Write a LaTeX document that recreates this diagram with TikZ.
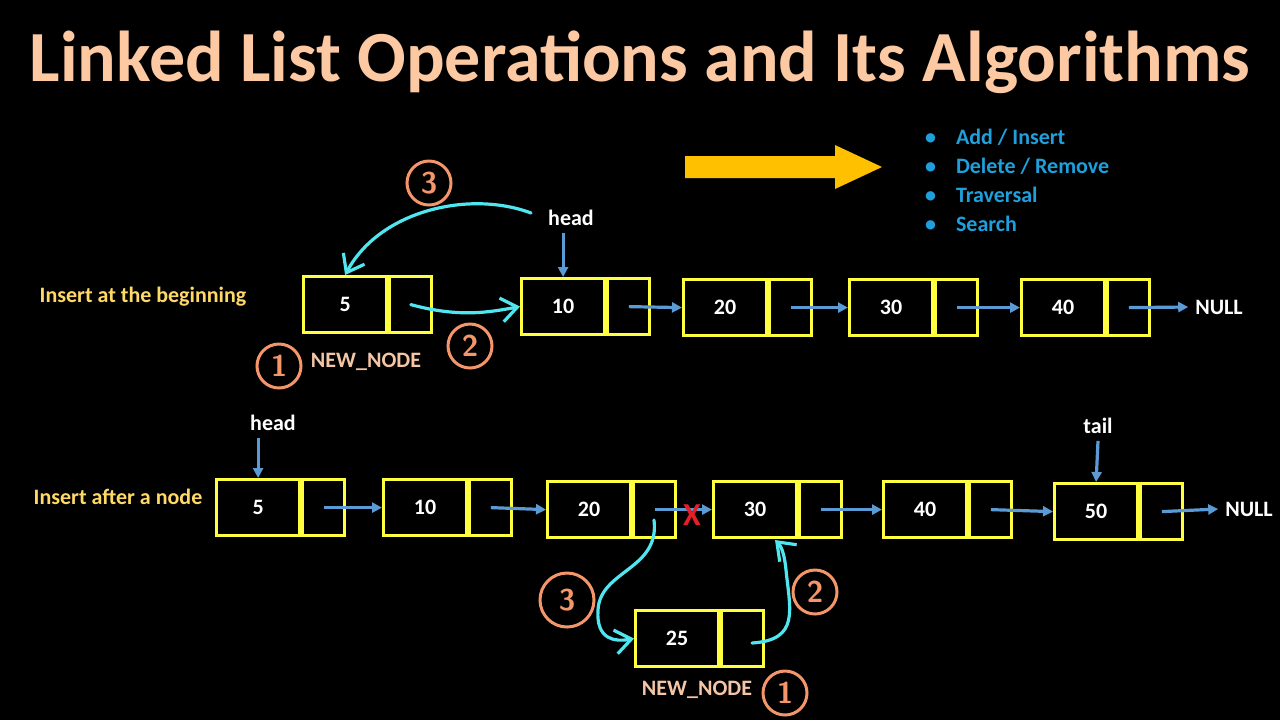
\documentclass[tikz,border=0pt]{standalone}
\usepackage{fontspec}
\setmainfont{Carlito}
\usetikzlibrary{arrows.meta}
\definecolor{ttl}{HTML}{FCC9A2}
\definecolor{yel}{HTML}{FFFF40}
\definecolor{lab}{HTML}{FFD966}
\definecolor{ptr}{HTML}{5B9BD5}
\definecolor{cy}{HTML}{4FE6F0}
\definecolor{org}{HTML}{F4956A}
\definecolor{blu}{HTML}{1FA0DC}
\definecolor{nn}{HTML}{F4C6A6}
\definecolor{arr}{HTML}{FFC000}
\begin{document}
\begin{tikzpicture}[x=0.5pt,y=-0.5pt,
  cell/.style={draw=yel,line width=1.6pt,minimum height=28pt,inner sep=0pt,font=\bfseries\fontsize{11}{13}\selectfont,text=white},
  valc/.style={cell,minimum width=41.5pt},
  ptrc/.style={cell,minimum width=21pt},
  link/.style={ptr,line width=1.6pt,-{Triangle[length=5pt,width=5pt]}},
  hand/.style={cy,line width=1.6pt,line cap=round,-{Straight Barb[length=8pt,width=12pt]}},
  circ/.style={draw=org,line width=1.5pt,circle,minimum size=22pt,inner sep=0pt,text=org,font=\bfseries\sffamily\fontsize{15}{15}\selectfont},
  lbl/.style={text=lab,font=\bfseries\fontsize{11}{13}\selectfont},
  wt/.style={text=white,font=\bfseries\fontsize{11}{13}\selectfont},
  nnl/.style={text=nn,font=\bfseries\fontsize{11}{13}\selectfont},
  bl/.style={text=blu,font=\bfseries\fontsize{11}{13}\selectfont,anchor=west}]
\fill[black] (0,0) rectangle (1280,720);
\useasboundingbox (0,0) rectangle (1280,720);
\node[text=ttl,font=\bfseries\fontsize{36}{40}\selectfont] (title) at (640,62) {Linked List Operations and Its Algorithms};
\newcommand\lln[4]{%
  \node[valc,anchor=north west] (#1) at (#2,#3) {#4};
  \node[ptrc,anchor=north west] (#1p) at (#1.north east) {};}
\lln{t5}{302}{275}{5}
\lln{t10}{520}{277}{10}
\lln{t20}{682}{278}{20}
\lln{t30}{848}{278}{30}
\lln{t40}{1020}{278}{40}
\node[wt] (tnull) at (1219,307) {NULL};
\draw[link] (t10p.center) -- (t20.west);
\draw[link] (t20p.center) -- (t30.west);
\draw[link] (t30p.center) -- (t40.west);
\draw[link] (t40p.center) -- (tnull.west);
\node[lbl] (l1) at (143,297) {Insert at the beginning};
\node[wt] (thead) at (571,218) {head};
\draw[link] (thead.south -| t10.north) -- (t10.north);
\node[nnl] (nn1) at (366,362) {NEW\_NODE};
\node[circ] (c1) at (279,366) {1};
\node[circ] (c2) at (470,346) {2};
\node[circ] (c3) at (429,183) {3};
\draw[hand] (t5p.center) .. controls (460,318) and (490,312) .. (t10.west);
\draw[hand] (531,213) .. controls (470,190) and (380,210) .. (t5.north);
\lln{b5}{215}{478}{5}
\lln{b10}{382}{478}{10}
\lln{b20}{546}{480}{20}
\lln{b30}{712}{480}{30}
\lln{b40}{882}{480}{40}
\lln{b50}{1053}{482}{50}
\lln{b25}{634}{609}{25}
\node[wt] (bnull) at (1249,509) {NULL};
\draw[link] (b5p.center) -- (b10.west);
\draw[link] (b10p.center) -- (b20.west);
\draw[link] (b20p.center) -- (b30.west);
\draw[link] (b30p.center) -- (b40.west);
\draw[link] (b40p.center) -- (b50.west);
\draw[link] (b50p.center) -- (bnull.west);
\node[lbl] (l2) at (118,497) {Insert after a node};
\node[wt] (bhead) at (273,423) {head};
\draw[link] (bhead.south -| b5.north) -- (b5.north);
\node[wt] (tail) at (1098,426) {tail};
\draw[link] (tail.south) -- (b50.north);
\node[text={rgb,255:red,230;green,30;blue,40},font=\bfseries\fontsize{16}{16}\selectfont] (x) at (692,515) {X};
\node[nnl] (nn2) at (697,690) {NEW\_NODE};
\node[circ] (d1) at (785,693) {1};
\node[circ] (d2) at (815,592) {2};
\node[circ,minimum size=27pt] (d3) at (567,600) {3};
\draw[hand] (654,520) .. controls (660,570) and (600,570) .. (598,610) .. controls (596,640) and (615,642) .. (b25.west);
\draw[hand] (752,643) .. controls (800,640) and (790,610) .. (786,570) .. controls (784,550) and (780,545) .. (775,540);
\fill[arr] (685,156) -- (835,156) -- (835,145) -- (882,167) -- (835,189) -- (835,178) -- (685,178) -- cycle;
\node[bl] (b1) at (918,137) {•\hspace{10pt}Add / Insert};
\node[bl] (b2) at (918,166) {•\hspace{10pt}Delete / Remove};
\node[bl] (b3) at (918,195) {•\hspace{10pt}Traversal};
\node[bl] (b4) at (918,224) {•\hspace{10pt}Search};
\end{tikzpicture}
\end{document}
